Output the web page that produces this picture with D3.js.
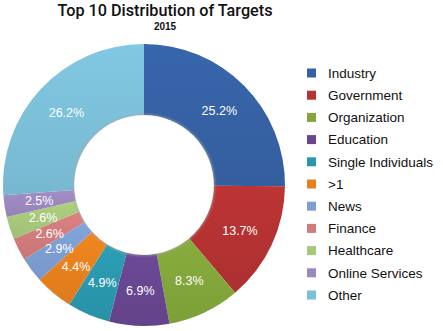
<!DOCTYPE html>
<html>
<head>
<meta charset="utf-8">
<script src="https://cdn.jsdelivr.net/npm/d3@7"></script>
<style>
  html, body { margin: 0; padding: 0; background: #fff; }
  svg { display: block; }
</style>
</head>
<body>
<svg id="chart" width="443" height="331"></svg>
<script>
// Target categories and their share (%) for 2015
const categories = ["Industry", "Government", "Organization", "Education", "Single Individuals",
  ">1", "News", "Finance", "Healthcare", "Online Services", "Other"];
const shares = [25.2, 13.7, 8.3, 6.9, 4.9, 4.4, 2.9, 2.6, 2.6, 2.5, 26.2];
const colors = ["#3662A5", "#B53232", "#82A63A", "#674690", "#2A97AD", "#E7801E",
  "#7D9ED3", "#D27B7B", "#A7C77B", "#9B88BE", "#7CC0D9"];

const title = "Top 10 Distribution of Targets";
const subtitle = "2015";

const svg = d3.select("#chart");
const cx = 144, cy = 185, outerR = 141, innerR = 70;

const data = categories.map((c, i) => ({ name: c, value: shares[i], color: colors[i] }));

const pie = d3.pie().value(d => d.value).sort(null);
const arc = d3.arc().innerRadius(innerR).outerRadius(outerR);
const labelArc = d3.arc().innerRadius(106).outerRadius(106);

const defs = svg.append("defs");
// soft shading across each slice
data.forEach((d, i) => {
  const g = defs.append("linearGradient").attr("id", "g" + i)
    .attr("x1", 0).attr("y1", 0).attr("x2", 0).attr("y2", 1);
  g.append("stop").attr("offset", "0%").attr("stop-color", d3.color(d.color).brighter(0.12));
  g.append("stop").attr("offset", "100%").attr("stop-color", d3.color(d.color).darker(0.12));
});
const blur = defs.append("filter").attr("id", "holeShadow")
  .attr("x", "-10%").attr("y", "-10%").attr("width", "120%").attr("height", "120%");
blur.append("feGaussianBlur").attr("stdDeviation", 1.2);

const g = svg.append("g").attr("transform", `translate(${cx},${cy})`);
const arcs = pie(data);

g.selectAll("path.slice").data(arcs).join("path")
  .attr("class", "slice")
  .attr("d", arc)
  .attr("fill", (d, i) => `url(#g${i})`);

// soft rim inside the hole
g.append("circle").attr("r", innerR).attr("fill", "none")
  .attr("stroke", "#a8a8a8").attr("stroke-width", 1.2).attr("filter", "url(#holeShadow)");
g.append("circle").attr("r", innerR - 0.5).attr("fill", "#fff");

g.selectAll("text.val").data(arcs).join("text")
  .attr("class", "val")
  .attr("transform", d => `translate(${labelArc.centroid(d)})`)
  .attr("text-anchor", "middle")
  .attr("dy", "0.36em")
  .attr("fill", "#fff")
  .style("font-family", "'Liberation Sans', Arial, sans-serif")
  .style("font-size", "12.5px")
  .text(d => d.data.value.toFixed(1) + "%");

// Title
svg.append("text")
  .attr("x", 165).attr("y", 16)
  .attr("text-anchor", "middle")
  .attr("textLength", 215).attr("lengthAdjust", "spacingAndGlyphs")
  .style("font-family", "Roboto, 'Liberation Sans', Arial, sans-serif")
  .style("font-weight", "500")
  .style("font-size", "16.5px")
  .attr("fill", "#111")
  .text(title);
svg.append("text")
  .attr("x", 165).attr("y", 30)
  .attr("text-anchor", "middle")
  .style("font-family", "'Liberation Sans', Arial, sans-serif")
  .style("font-weight", "bold")
  .style("font-size", "10px")
  .attr("fill", "#111")
  .text(subtitle);

// Legend
const legendY = d3.scalePoint().domain(categories).range([73, 295]);
const leg = svg.append("g").selectAll("g").data(data).join("g")
  .attr("transform", d => `translate(307,${legendY(d.name)})`);
leg.append("rect").attr("x", 0).attr("y", -4.5).attr("width", 9).attr("height", 9)
  .attr("fill", d => d.color);
leg.append("text").attr("x", 21).attr("dy", "0.36em")
  .style("font-family", "'Liberation Sans', Arial, sans-serif")
  .style("font-size", "13.5px")
  .attr("fill", "#111")
  .text(d => d.name);
</script>
</body>
</html>
